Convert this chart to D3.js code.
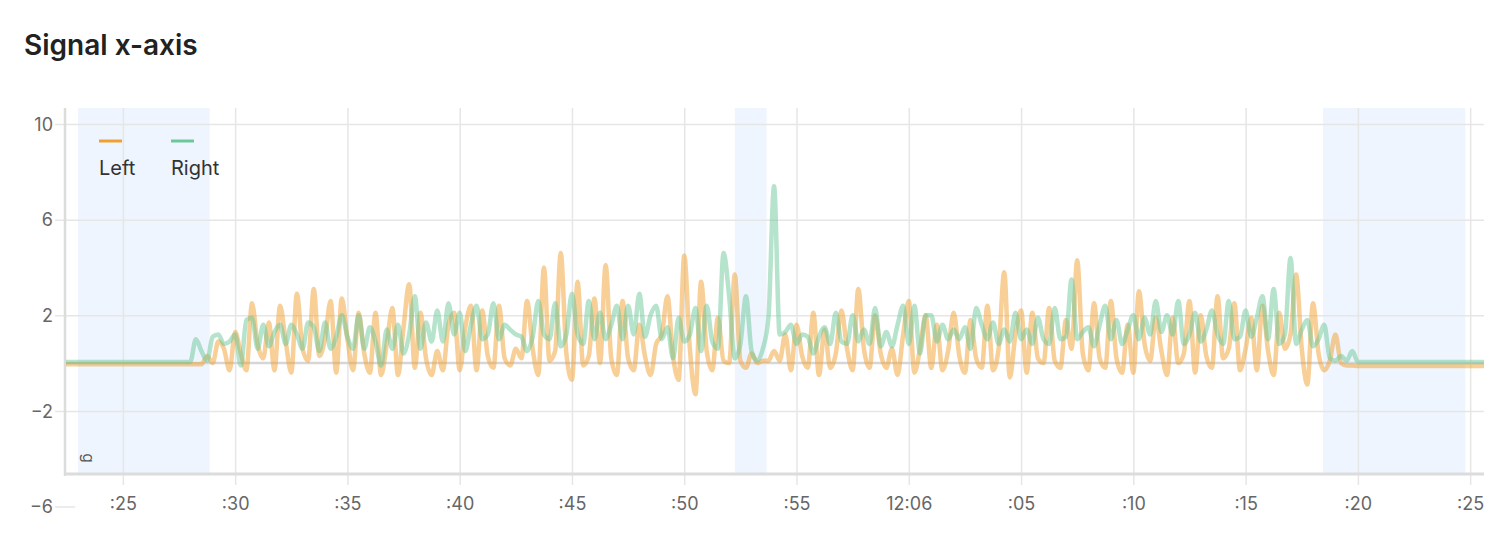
<!DOCTYPE html>
<html>
<head>
<meta charset="utf-8">
<script src="https://cdn.jsdelivr.net/npm/d3@7"></script>
<style>
  body { margin: 0; background: #fff; font-family: Inter, "Open Sans", sans-serif; }
  .grid line { stroke: #e6e6e6; stroke-width: 1.5; }
  .grid path { display: none; }
  .grid text { fill: #666; font-size: 18px; font-family: Inter, "Open Sans", sans-serif; }
  .title { font-size: 28px; font-weight: 600; fill: #222; }
  .legend text { font-size: 20px; fill: #333; }
</style>
</head>
<body>
<svg id="chart" width="1500" height="539"></svg>
<script>
// series
const seriesNames = ['Left', 'Right'];
const seriesColors = ['#f0a030', '#6cc89a'];

// samples every 15 s from 11:28:00, flat ends at the domain edges
const startTime = '11:28:00';
const stepSeconds = 15;
const edgeTimes = ['11:22:28', '12:25:37'];
const leftEdge = [-0.05, -0.12];
const rightEdge = [0.04, 0.05];

const leftValues = [
  -0.05,-0.05,-0.05,0.3,0.0,0.9,0.6,-0.3,1.3,0.4,
  -0.3,2.5,0.8,0.2,1.7,-0.3,2.4,0.9,-0.4,2.9,
  0.6,0.1,3.1,0.3,1.0,2.6,-0.4,2.7,1.0,-0.3,
  2.1,0.4,-0.4,2.1,-0.5,0.8,2.3,-0.5,1.5,3.3,
  -0.2,2.1,0.2,-0.5,0.5,-0.3,1.6,2.1,-0.3,1.5,
  2.4,-0.3,2.2,0.3,-0.2,2.4,0.2,-0.1,0.6,0.2,
  2.6,0.6,-0.5,4.0,0.1,0.5,4.6,0.4,-0.7,3.4,
  -0.1,0.3,2.7,0.0,4.1,0.2,-0.5,2.6,0.2,-0.3,
  1.6,0.3,-0.5,0.8,1.2,2.8,0.3,-0.7,4.5,0.6,
  -1.3,3.4,0.5,-0.3,1.9,0.1,0.0,3.7,0.1,-0.2,
  0.4,0.0,0.1,0.1,0.5,0.1,1.2,-0.3,1.6,0.3,
  -0.2,2.1,-0.5,1.4,-0.2,0.4,2.2,0.6,-0.3,3.1,
  0.6,-0.2,2.0,0.4,-0.2,0.6,-0.5,1.2,2.6,-0.4,
  0.6,2.0,-0.2,1.6,-0.3,0.5,2.1,0.3,-0.4,1.8,
  0.2,-0.2,2.4,-0.3,0.6,3.8,-0.6,1.2,2.2,-0.4,
  2.1,0.2,0.0,2.3,0.1,-0.2,1.8,0.6,4.3,0.4,
  -0.3,2.5,0.2,-0.2,2.6,0.2,-0.4,1.6,-0.4,3.0,
  0.8,0.1,1.9,0.5,-0.5,1.9,0.0,0.4,2.6,-0.4,
  2.0,0.3,-0.2,2.8,0.2,0.6,2.5,-0.3,0.6,1.9,
  -0.3,2.4,0.5,-0.5,2.1,0.6,1.2,3.7,0.6,-0.9,
  2.5,0.4,-0.3,0.1,1.2,0.0,-0.1,-0.1,-0.12
];

const rightValues = [
  0.05,1.0,0.5,0.1,1.1,1.2,0.8,0.9,1.2,-0.1,
  1.8,1.9,0.6,1.6,0.7,1.3,1.6,0.8,1.6,1.2,
  0.6,1.7,1.5,0.5,1.7,0.6,1.1,2.0,1.1,0.6,
  2.0,0.6,1.5,0.9,-0.1,1.4,0.6,1.6,0.4,1.2,
  2.8,0.6,1.7,0.9,2.2,0.9,2.5,1.2,2.1,0.5,
  1.6,2.4,1.0,1.2,2.5,1.0,1.6,1.4,1.2,1.1,
  0.5,1.1,2.6,1.2,1.0,2.5,0.7,1.2,2.9,1.2,
  0.8,2.6,1.0,2.1,1.0,1.6,2.4,1.0,2.4,1.2,
  2.9,1.1,2.0,2.4,1.0,1.5,0.2,1.9,0.9,1.2,
  2.3,0.5,2.4,0.9,0.6,4.6,2.8,0.2,0.8,2.8,
  0.5,0.1,0.6,1.9,7.4,1.2,1.3,1.6,0.8,1.2,
  1.1,0.4,1.1,1.5,0.8,2.1,0.9,0.8,2.0,0.9,
  1.4,0.8,2.3,0.7,1.3,0.7,1.6,2.4,0.8,2.4,
  0.4,2.0,2.0,0.9,1.6,1.0,1.4,1.0,1.5,0.6,
  2.3,1.6,1.0,1.7,0.8,1.4,0.9,2.1,1.0,1.4,
  0.8,1.9,1.0,0.8,2.3,1.0,1.1,3.5,1.0,1.3,
  1.5,0.7,1.6,2.4,1.0,1.8,0.8,1.4,2.0,1.0,
  1.9,1.2,2.6,1.3,2.0,1.2,2.6,0.8,1.2,2.1,
  0.9,1.4,2.2,1.2,0.8,2.6,1.0,1.1,2.2,1.1,
  1.9,2.8,1.0,3.1,0.8,1.2,4.4,0.8,1.4,1.8,
  0.7,1.0,1.6,0.2,0.1,0.3,0.1,0.5,0.05
];

// axes
const yTicks = [10, 6, 2, -2, -6];
const xTickTimes = ['11:25:00', '11:30:00', '11:35:00', '11:40:00', '11:45:00', '11:50:00', '11:55:00',
  '12:00:00', '12:05:00', '12:10:00', '12:15:00', '12:20:00', '12:25:00'];
const xTickLabels = [':25', ':30', ':35', ':40', ':45', ':50', ':55', '12:06', ':05', ':10', ':15', ':20', ':25'];

// shaded regions
const bands = [['11:23:00', '11:28:52'], ['11:52:15', '11:53:40'], ['12:18:27', '12:24:47']];

const parse = d3.timeParse('%H:%M:%S');
const plotLeft = 66, plotRight = 1484, plotTop = 108, plotBottom = 474;

const svg = d3.select('#chart');

svg.append('text')
  .attr('class', 'title')
  .attr('x', 24)
  .attr('y', 55)
  .text('Signal x-axis');

const x = d3.scaleTime()
  .domain(edgeTimes.map(parse))
  .range([plotLeft, plotRight]);

const y = d3.scaleLinear()
  .domain([-4.64, 10.67])
  .range([plotBottom, plotTop]);

// bands
svg.append('g').selectAll('rect')
  .data(bands)
  .enter()
  .append('rect')
  .attr('x', d => x(parse(d[0])))
  .attr('y', plotTop)
  .attr('width', d => x(parse(d[1])) - x(parse(d[0])))
  .attr('height', plotBottom - plotTop)
  .attr('fill', '#eef5fe');

// vertical grid + x labels
const tickDates = xTickTimes.map(parse);
svg.append('g')
  .attr('class', 'grid')
  .attr('transform', `translate(0, 485)`)
  .call(d3.axisBottom(x)
    .tickValues(tickDates)
    .tickSize(-(485 - plotTop))
    .tickPadding(12)
    .tickFormat((d, i) => xTickLabels[i])
  );

// horizontal grid + y labels
const yAxis = svg.append('g')
  .attr('class', 'grid')
  .attr('transform', `translate(55, 0)`)
  .call(d3.axisLeft(y)
    .tickValues(yTicks)
    .tickSize(-(plotRight - 55))
    .tickPadding(2)
  );
yAxis.selectAll('.tick')
  .filter(d => d === -6)
  .select('line')
  .attr('x2', 20);
yAxis.selectAll('text').attr('dy', '0.35em');

// axis lines
svg.append('line')
  .attr('x1', 65).attr('x2', 65)
  .attr('y1', plotTop).attr('y2', plotBottom + 2)
  .attr('stroke', '#dcdcdc').attr('stroke-width', 2.5);
svg.append('line')
  .attr('x1', 64).attr('x2', plotRight)
  .attr('y1', plotBottom).attr('y2', plotBottom)
  .attr('stroke', '#dcdcdc').attr('stroke-width', 3);

// zero line
svg.append('line')
  .attr('x1', plotLeft).attr('x2', plotRight)
  .attr('y1', y(0)).attr('y2', y(0))
  .attr('stroke', '#d6d6d6').attr('stroke-width', 2.5);

// build series points
const t0 = parse(startTime);
function toPoints(values, edge) {
  const pts = [{ t: parse(edgeTimes[0]), v: edge[0] }];
  values.forEach((v, i) => {
    pts.push({ t: new Date(t0.getTime() + i * stepSeconds * 1000), v: v });
  });
  pts.push({ t: parse(edgeTimes[1]), v: edge[1] });
  return pts;
}
const series = [toPoints(leftValues, leftEdge), toPoints(rightValues, rightEdge)];

const line = d3.line()
  .x(d => x(d.t))
  .y(d => y(d.v))
  .curve(d3.curveMonotoneX);

svg.append('g').selectAll('path')
  .data(series)
  .enter()
  .append('path')
  .attr('d', line)
  .attr('fill', 'none')
  .attr('stroke', (d, i) => seriesColors[i])
  .attr('stroke-width', 4.5)
  .attr('stroke-linejoin', 'round')
  .attr('opacity', 0.5);

// legend
const legend = svg.append('g').attr('class', 'legend');
seriesNames.forEach((name, i) => {
  const lx = 99 + i * 72;
  legend.append('line')
    .attr('x1', lx).attr('x2', lx + 23)
    .attr('y1', 141).attr('y2', 141)
    .attr('stroke', seriesColors[i])
    .attr('stroke-width', 3);
  legend.append('text')
    .attr('x', lx)
    .attr('y', 175)
    .text(name);
});

// small rotated marker in the first band
svg.append('text')
  .attr('transform', 'translate(83, 458) rotate(90)')
  .attr('text-anchor', 'middle')
  .attr('font-size', 15)
  .attr('fill', '#555')
  .text('g');
</script>
</body>
</html>
